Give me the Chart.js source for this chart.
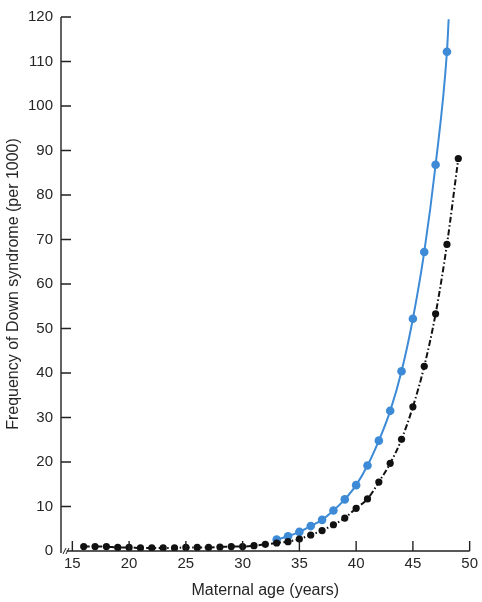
<!DOCTYPE html>
<html>
<head>
<meta charset="utf-8">
<script src="https://cdn.jsdelivr.net/npm/chart.js@4.4.1/dist/chart.umd.min.js"></script>
<style>
  html, body { margin: 0; padding: 0; background: #fff; }
  #wrap { width: 482px; height: 602px; }
</style>
</head>
<body>
<div id="wrap"><canvas id="downChart"></canvas></div>
<script>
/* ===== DATA ===== */
const allAges = [16, 17, 18, 19, 20, 21, 22, 23, 24, 25, 26, 27, 28, 29, 30, 31, 32,
  33, 34, 35, 36, 37, 38, 39, 40, 41, 42, 43, 44, 45, 46, 47, 48, 49];
const allValues = [1.0, 1.0, 1.0, 0.8, 0.8, 0.7, 0.7, 0.7, 0.7, 0.8, 0.8, 0.8, 0.9, 1.0, 1.0, 1.2, 1.5,
  1.8, 2.1, 2.7, 3.6, 4.6, 5.9, 7.4, 9.6, 11.7, 15.5, 19.7, 25.1, 32.4, 41.5, 53.3, 68.9, 88.2];

// last entry is the end of the drawn curve, no dot there
const olderAges = [33, 34, 35, 36, 37, 38, 39, 40, 41, 42, 43, 44, 45, 46, 47, 48, 48.15];
const olderValues = [2.6, 3.3, 4.3, 5.6, 7.0, 9.1, 11.6, 14.8, 19.2, 24.8, 31.5, 40.4, 52.2, 67.2, 86.8, 112.2, 119.5];

const yTicks = [0, 10, 20, 30, 40, 50, 60, 70, 80, 90, 100, 110, 120];
const xTicks = [15, 20, 25, 30, 35, 40, 45, 50];

const toPoints = (xs, ys) => xs.map((x, i) => ({ x: x, y: ys[i] }));

const AXIS = "#222222";
const TEXT = "#262626";

/* ===== axes drawn by hand: inward ticks + axis break ===== */
const axisPlugin = {
  id: "axisPlugin",
  afterDraw(chart) {
    const ctx = chart.ctx;
    const xs = chart.scales.x;
    const ys = chart.scales.y;
    const left = chart.chartArea.left;
    const bottom = ys.getPixelForValue(0);
    ctx.save();
    ctx.strokeStyle = AXIS;
    ctx.lineWidth = 1.4;
    ctx.beginPath();
    // y axis line
    ctx.moveTo(left, ys.getPixelForValue(120));
    ctx.lineTo(left, bottom + 2);
    // x axis line (starts after the break)
    ctx.moveTo(xs.getPixelForValue(14.5), bottom);
    ctx.lineTo(xs.getPixelForValue(50), bottom);
    // y ticks, pointing in
    yTicks.forEach((v) => {
      const p = ys.getPixelForValue(v);
      if (v > 0) {
        ctx.moveTo(left, p);
        ctx.lineTo(left + 10, p);
      }
    });
    // x ticks, pointing up
    xTicks.forEach((v) => {
      const p = xs.getPixelForValue(v);
      ctx.moveTo(p, bottom);
      ctx.lineTo(p, bottom - 10);
    });
    ctx.stroke();
    // break marks
    ctx.lineWidth = 1;
    ctx.beginPath();
    const bx = left + 2;
    ctx.moveTo(bx, bottom + 3);
    ctx.lineTo(bx + 3, bottom - 3);
    ctx.moveTo(bx + 3, bottom + 3);
    ctx.lineTo(bx + 6, bottom - 3);
    ctx.stroke();
    ctx.restore();
  },
};

/* ===== CHART ===== */
const ctx = document.getElementById("downChart");

new Chart(ctx, {
  type: "line",
  data: {
    datasets: [
      {
        label: "All mothers",
        data: toPoints(allAges, allValues),
        borderColor: "#111111",
        backgroundColor: "#111111",
        borderWidth: 2,
        borderDash: [6, 2.5, 1.5, 2.5],
        pointRadius: 3.6,
        pointBorderWidth: 0,
        cubicInterpolationMode: "monotone",
      },
      {
        label: "Older mothers",
        data: toPoints(olderAges, olderValues),
        borderColor: "#3d8bd6",
        backgroundColor: "#3d8bd6",
        borderWidth: 2,
        pointRadius: (c) => (c.dataIndex === olderAges.length - 1 ? 0 : 4.3),
        pointBorderWidth: 0,
        cubicInterpolationMode: "monotone",
      },
    ],
  },
  plugins: [axisPlugin],
  options: {
    responsive: true,
    maintainAspectRatio: false,
    animation: false,
    layout: { padding: { top: 8, right: 12, left: 0, bottom: 0 } },
    plugins: {
      legend: { display: false },
      tooltip: { enabled: false },
    },
    scales: {
      x: {
        type: "linear",
        min: 14,
        max: 50,
        afterFit: (scale) => { scale.height = 51; },
        afterBuildTicks: (scale) => { scale.ticks = xTicks.map((v) => ({ value: v })); },
        grid: { display: false, drawTicks: false },
        border: { display: false },
        ticks: {
          padding: 4,
          color: TEXT,
          font: { family: "Liberation Sans, Arial, sans-serif", size: 15 },
        },
        title: {
          display: true,
          text: "Maternal age (years)",
          color: TEXT,
          padding: { top: 0, bottom: 1.5 },
          font: { family: "Liberation Sans, Arial, sans-serif", size: 16 },
        },
      },
      y: {
        min: 0,
        max: 120,
        afterFit: (scale) => { scale.width = 61; },
        afterBuildTicks: (scale) => { scale.ticks = yTicks.map((v) => ({ value: v })); },
        grid: { display: false, drawTicks: false },
        border: { display: false },
        ticks: {
          padding: 8,
          color: TEXT,
          font: { family: "Liberation Sans, Arial, sans-serif", size: 15 },
        },
        title: {
          display: true,
          text: "Frequency of Down syndrome (per 1000)",
          color: TEXT,
          padding: { top: 4, bottom: 0 },
          font: { family: "Liberation Sans, Arial, sans-serif", size: 16 },
        },
      },
    },
  },
});
</script>
</body>
</html>
